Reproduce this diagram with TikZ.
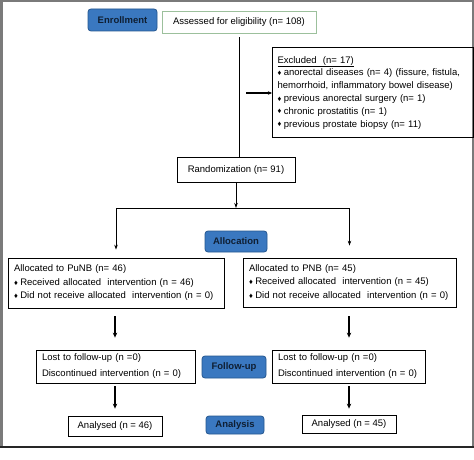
\documentclass[tikz,border=0pt]{standalone}
\usepackage{fontspec}
\setmainfont{Liberation Sans}
\usetikzlibrary{arrows.meta}
\definecolor{boxblue}{HTML}{3A78C0}
\definecolor{boxblueedge}{HTML}{24568F}
\definecolor{navytext}{HTML}{0F1F33}
\definecolor{assessgreen}{HTML}{9CC09C}
\definecolor{framegray}{HTML}{7A7A7A}
\newcommand{\bul}{{\fontsize{7.5}{7.5}\selectfont\raisebox{0.4pt}{♦}}\hspace{2.5pt}}
\begin{document}
\begin{tikzpicture}[x=1pt,y=-1pt,
  stage/.style={draw=boxblueedge,fill=boxblue,rounded corners=3pt,text=navytext,
    font=\fontsize{9.5}{11}\selectfont\bfseries,inner sep=0pt,line width=0.8pt},
  plainbox/.style={draw=black,line width=0.8pt,inner sep=0pt,font=\fontsize{9.5}{11}\selectfont},
  listbox/.style={draw=black,line width=0.8pt,inner xsep=6pt,inner ysep=0pt,align=left},
  thinarrow/.style={-{Stealth[length=5pt,width=3.5pt]},line width=0.7pt},
  thickarrow/.style={-{Stealth[length=5pt,width=4.5pt]},line width=2pt},
]
\useasboundingbox (0,0) rectangle (474,460);
\fill[white] (0,0) rectangle (474,460);
% frame
\draw[framegray,line width=2.5pt] (1.25,447) -- (1.25,1.25) -- (472.75,1.25) -- (472.75,447);
\draw[black!85,line width=1.2pt] (0,447) -- (474,447);

% nodes
\node[stage,minimum width=69pt,minimum height=22pt] (enroll) at (122.5,20) {Enrollment};
\node[plainbox,draw=assessgreen,minimum width=154pt,minimum height=22pt] (assess) at (239,22) {Assessed for eligibility (n= 108)};
\node[listbox,line width=1.1pt,inner xsep=5pt,text width=191pt,minimum height=90pt,anchor=north west,
  font=\fontsize{9.5}{12.8}\selectfont] (excl) at (272,47)
  {\underline{Excluded\ \ (n= 17)}\\
   \bul anorectal diseases (n= 4) (fissure, fistula,\\
   hemorrhoid, inflammatory bowel disease)\\
   \bul previous anorectal surgery (n= 1)\\
   \bul chronic prostatitis (n= 1)\\
   \bul previous prostate biopsy (n= 11)};
\node[plainbox,minimum width=118pt,minimum height=25pt] (rand) at (236,170) {Randomization (n= 91)};
\node[stage,minimum width=62pt,minimum height=21pt] (alloc) at (236,241.5) {Allocation};
\node[listbox,text width=204pt,minimum height=50pt,font=\fontsize{9.5}{13.5}\selectfont] (lalloc) at (116,283)
  {Allocated to PuNB (n= 46)\\
   \bul Received allocated\ \ intervention (n = 46)\\
   \bul Did not receive allocated\ \ intervention (n = 0)};
\node[listbox,inner xsep=6pt,text width=201pt,minimum height=49pt,font=\fontsize{9.5}{13.5}\selectfont] (ralloc) at (349.5,282.5)
  {Allocated to PNB (n= 45)\\
   \bul Received allocated\ \ intervention (n = 45)\\
   \bul Did not receive allocated\ \ intervention (n = 0)};
\node[listbox,text width=147pt,minimum height=33pt,font=\fontsize{9.5}{16}\selectfont] (lfu) at (115.5,366.5)
  {Lost to follow-up (n =0)\\ Discontinued intervention (n = 0)};
\node[stage,minimum width=64pt,minimum height=22pt] (fu) at (234,367) {Follow-up};
\node[listbox,text width=141pt,minimum height=33pt,font=\fontsize{9.5}{16}\selectfont] (rfu) at (348.5,366.5)
  {Lost to follow-up (n =0)\\ Discontinued intervention (n = 0)};
\node[plainbox,minimum width=94pt,minimum height=20pt] (lan) at (115,426) {Analysed (n = 46)};
\node[stage,minimum width=58pt,minimum height=18pt] (an) at (235,425) {Analysis};
\node[plainbox,minimum width=94pt,minimum height=18pt] (ran) at (349,424) {Analysed (n = 45)};

% connectors
\draw[line width=0.8pt,shorten <=4pt] (assess.south) -- (assess.south |- rand.north);
\coordinate (exclstart) at (246,93);
\draw[-{Stealth[length=4pt,width=3.5pt]},line width=1.3pt] (exclstart) -- (exclstart -| excl.west);
\coordinate (split) at (236,208);
\draw[thinarrow] (rand.south) -- (split);
\draw[line width=0.7pt] (lalloc.north |- split) -- (ralloc.north |- split);
\draw[thinarrow,shorten >=8pt] (lalloc.north |- split) -- (lalloc.north);
\draw[thinarrow,shorten >=12pt] (ralloc.north |- split) -- (ralloc.north);
\draw[thickarrow,shorten <=8pt,shorten >=12pt] (lalloc.south -| lan.north) -- (lfu.north -| lan.north);
\draw[thickarrow,shorten <=9pt,shorten >=12pt] (ralloc.south -| ran.north) -- (rfu.north -| ran.north);
\draw[thickarrow,shorten <=3pt,shorten >=7pt] (lfu.south -| lan.north) -- (lan.north);
\draw[thickarrow,shorten <=3pt,shorten >=6pt] (rfu.south -| ran.north) -- (ran.north);
\end{tikzpicture}
\end{document}
